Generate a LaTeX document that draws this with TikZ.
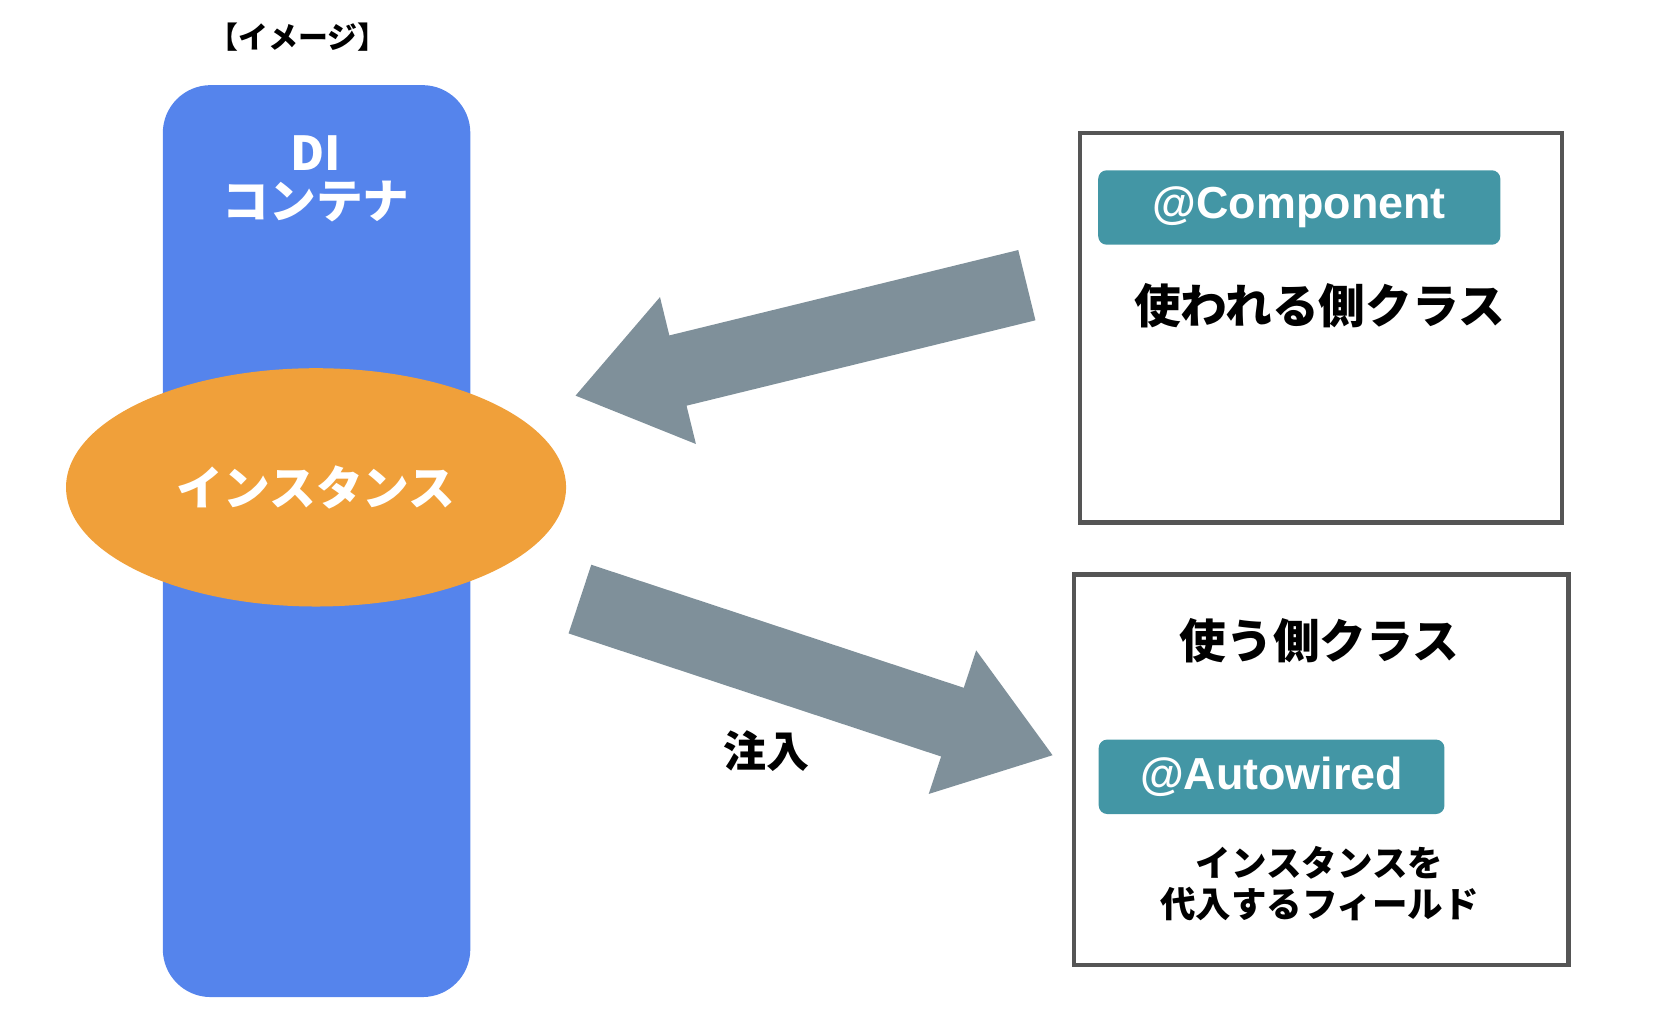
\documentclass[tikz,border=0pt]{standalone}
\usepackage{fontspec}
\setmainfont{Noto Sans CJK JP}
\newfontfamily\latin{Liberation Sans}
\usetikzlibrary{arrows.meta,shapes.geometric}
\definecolor{diblue}{HTML}{5584EC}
\definecolor{instorange}{HTML}{F0A03A}
\definecolor{annoteal}{HTML}{4396A5}
\definecolor{flowgray}{HTML}{7F909A}
\definecolor{boxgray}{HTML}{555555}
\tikzset{
  jtext/.style = {font=\bfseries\fontsize{25}{30}\selectfont, align=center},
  container/.style = {draw=none, fill=diblue, rounded corners=0.9cm},
  instance/.style = {ellipse, fill=instorange, text=white, jtext, minimum width=9.4cm, minimum height=4.48cm},
  classbox/.style = {draw=boxgray, line width=0.08cm},
  anno/.style = {fill=annoteal, rounded corners=0.16cm, text=white, font=\latin\bfseries\fontsize{24}{28}\selectfont, inner sep=0pt},
  flow/.style = {draw=flowgray, line width=1.36cm, -{Triangle[length=2cm,width=2.7cm]}}
}
\begin{document}
\begin{tikzpicture}[x=0.02cm,y=-0.02cm]
  \useasboundingbox (0,0) rectangle (1560,953);
  % title
  \node (title) at (280,35) {\bfseries\fontsize{16}{20}\selectfont 【イメージ】};
  % DI container
  \fill[container] (153,80) rectangle (442,937);
  \node[jtext, text=white] (di) at (297,168) {DI\\[-4pt]コンテナ};
  % instance
  \node[instance] (inst) at (297,458) {インスタンス};
  % used class (top)
  \draw[classbox] (1015,125) rectangle (1468,491);
  \node[anno, minimum width=7.56cm, minimum height=1.4cm] (comp) at (1221,195) {@Component};
  \node[jtext] (usedcls) at (1240,287) {使われる側クラス};
  % using class (bottom)
  \draw[classbox] (1009,540) rectangle (1474,907);
  \node[jtext] (usingcls) at (1240,602) {使う側クラス};
  \node[anno, minimum width=6.5cm, minimum height=1.4cm] (autow) at (1195,730) {@Autowired};
  \node[align=center, font=\bfseries\fontsize{19}{22}\selectfont] (field) at (1240,830) {インスタンスを\\代入するフィールド};
  % arrows
  \coordinate (srcA) at (965,268);
  \coordinate (tipA) at (540,372);
  \coordinate (srcB) at (545,563);
  \coordinate (tipB) at (990,710);
  \draw[flow] (srcA) -- (tipA);
  \draw[flow] (srcB) -- (tipB);
  \node[jtext, font=\bfseries\fontsize{23}{26}\selectfont] (inject) at (720,706) {注入};
\end{tikzpicture}
\end{document}
